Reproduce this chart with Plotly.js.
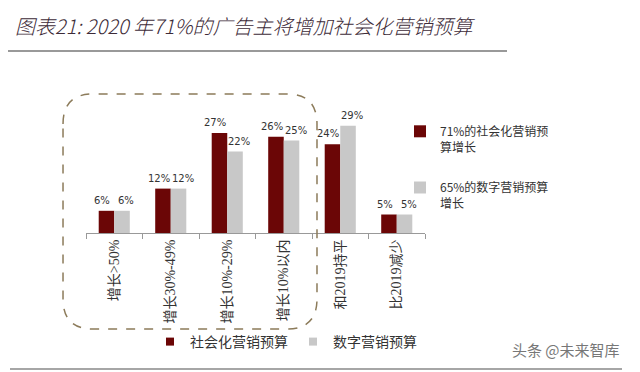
<!DOCTYPE html>
<html>
<head>
<meta charset="utf-8">
<script src="https://cdn.plot.ly/plotly-3.0.1.min.js"></script>
<style>html,body{margin:0;padding:0;background:#fff;}#chart{width:640px;height:372px;}</style>
</head>
<body>
<div id="chart"></div>
<script>
// Data
const categories = ["增长>50%", "增长30%-49%", "增长10%-29%", "增长10%以内", "和2019持平", "比2019减少"];
const socialBudget = [6, 12, 27, 26, 24, 5];
const digitalBudget = [6, 12, 22, 25, 29, 5];
const seriesNames = ["71%的社会化营销预<br>算增长", "65%的数字营销预算<br>增长"];
const bottomLegendNames = ["社会化营销预算", "数字营销预算"];
const titleText = "图表21: 2020 年71%的广告主将增加社会化营销预算";

// Layout geometry (pixels)
const L = 86, R = 425, T = 122, B = 233;
const W = 640, H = 372;
const px = X => (X - L) / (R - L);
const py = Y => (B - Y) / (B - T);

const dark = "#6b0606", gray = "#c8c8c8";
const cjk = "'Noto Sans CJK SC', 'DejaVu Sans', sans-serif";

const traces = [
  {type: "bar", name: seriesNames[0], x: categories, y: socialBudget, marker: {color: dark},
   legendgroup: "a", hoverinfo: "skip"},
  {type: "bar", name: seriesNames[1], x: categories, y: digitalBudget, marker: {color: gray},
   legendgroup: "b", hoverinfo: "skip"},
  {type: "scatter", mode: "markers", name: bottomLegendNames[0], x: [null], y: [null],
   marker: {symbol: "square", size: 8, color: dark}, legend: "legend2", hoverinfo: "skip"},
  {type: "scatter", mode: "markers", name: bottomLegendNames[1], x: [null], y: [null],
   marker: {symbol: "square", size: 8, color: gray}, legend: "legend2", hoverinfo: "skip"}
];

// Value labels, placed with the axis scales
const valueLabels = [];
function addLabels(vals, shift){
  vals.forEach((v, i) => valueLabels.push({
    x: categories[i], y: v, xref: "x", yref: "y", text: v + "%", showarrow: false,
    xanchor: "center", yanchor: "bottom", xshift: shift, yshift: 3,
    font: {family: "DejaVu Sans", size: 10, color: "#333"}
  }));
}
addLabels(socialBudget, -12);
addLabels(digitalBudget, 12);

// Rounded dashed rectangle path
const rl = 63, rr = 317, rt = 94, rb = 329, rad = 30;
function P(X, Y){ return px(X).toFixed(4) + "," + py(Y).toFixed(4); }
const roundPath = "M" + P(rl, rt + rad) + " Q" + P(rl, rt) + " " + P(rl + rad, rt) +
  " L" + P(rr - rad, rt) + " Q" + P(rr, rt) + " " + P(rr, rt + rad) +
  " L" + P(rr, rb - rad) + " Q" + P(rr, rb) + " " + P(rr - rad, rb) +
  " L" + P(rl + rad, rb) + " Q" + P(rl, rb) + " " + P(rl, rb - rad) + " Z";

const layout = {
  width: W, height: H,
  margin: {l: L, r: W - R, t: T, b: H - B, pad: 0},
  paper_bgcolor: "#fff", plot_bgcolor: "#fff",
  showlegend: true,
  barmode: "group", bargap: 0.45, bargroupgap: 0,
  title: {text: titleText, x: 15 / W, xref: "container", xanchor: "left",
          y: 1 - 27 / H, yref: "container", yanchor: "middle",
          font: {family: cjk, size: 20, color: "#3d2b38", style: "italic", weight: 300}},
  xaxis: {type: "category", range: [-0.5, 5.5], showline: true, linecolor: "#999", linewidth: 1,
          ticks: "outside", tickson: "boundaries", ticklen: 5, tickcolor: "#999",
          tickangle: -90, showgrid: false, zeroline: false,
          tickfont: {family: "'Liberation Serif', 'Noto Sans CJK SC', serif", size: 14, color: "#333"}},
  yaxis: {range: [0, 30], visible: false, showgrid: false, zeroline: false},
  legend: {x: px(400), y: py(117), xanchor: "left", yanchor: "top", xref: "paper", yref: "paper",
           traceorder: "grouped", tracegroupgap: 22, valign: "top",
           font: {family: cjk, size: 12, color: "#333"}, bgcolor: "rgba(0,0,0,0)"},
  legend2: {x: px(150), y: py(342), xanchor: "left", yanchor: "middle", orientation: "h",
            font: {family: cjk, size: 14, color: "#333"}, itemwidth: 30, bgcolor: "rgba(0,0,0,0)"},
  shapes: [
    {type: "path", xref: "paper", yref: "paper", path: roundPath,
     line: {color: "#8c7b5a", width: 1.5, dash: "dash"}},
    {type: "line", xref: "paper", yref: "paper", x0: px(8), x1: px(507), y0: py(51), y1: py(51),
     line: {color: "#999", width: 2}},
    {type: "line", xref: "paper", yref: "paper", x0: px(10), x1: px(622), y0: py(369), y1: py(369),
     line: {color: "#888", width: 1.5}}
  ],
  annotations: valueLabels.concat([
    {text: "头条 @未来智库", xref: "paper", yref: "paper", x: px(622), y: py(349),
     xanchor: "right", yanchor: "middle", showarrow: false,
     font: {family: cjk, size: 15, color: "#777"}}
  ])
};

Plotly.newPlot("chart", traces, layout, {staticPlot: true, displayModeBar: false});
</script>
</body>
</html>
